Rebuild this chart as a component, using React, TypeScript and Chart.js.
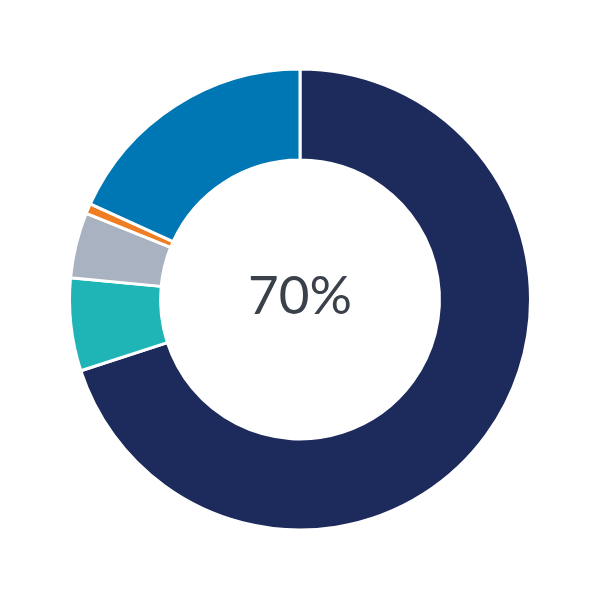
import React, { useEffect, useRef } from "react";
import { Chart, registerables } from "chart.js";

Chart.register(...registerables);

const categories = ["Navy", "Teal", "Gray", "Orange", "Blue"];
const values = [70, 6.5, 4.6, 0.7, 18.2];
const colors = ["#1c2b5b", "#1fb5b6", "#a9b2c0", "#ef7d22", "#0077b5"];
const centerLabel = "70%";

export default function App() {
  const ref = useRef<HTMLCanvasElement>(null);
  useEffect(() => {
    if (!ref.current) return;
    const chart = new Chart(ref.current, {
      type: "doughnut",
      data: {
        labels: categories,
        datasets: [
          {
            data: values,
            backgroundColor: colors,
            borderColor: "#ffffff",
            borderWidth: 3,
          },
        ],
      },
      options: {
        animation: false,
        responsive: false,
        cutout: "60.5%",
        layout: { padding: 59.5 },
        plugins: { legend: { display: false }, tooltip: { enabled: false } },
      },
    });
    return () => chart.destroy();
  }, []);
  return (
    <div style={{ position: "relative", width: 584, height: 583 }}>
      <canvas ref={ref} width={584} height={583} style={{ display: "block" }} />
      <div
        style={{
          position: "absolute",
          left: 0,
          width: 584,
          top: 254,
          textAlign: "center",
          fontFamily: "Lato, sans-serif",
          fontWeight: 400,
          fontSize: 53,
          lineHeight: "64px",
          color: "#3a414b",
        }}
      >
        {centerLabel}
      </div>
    </div>
  );
}
